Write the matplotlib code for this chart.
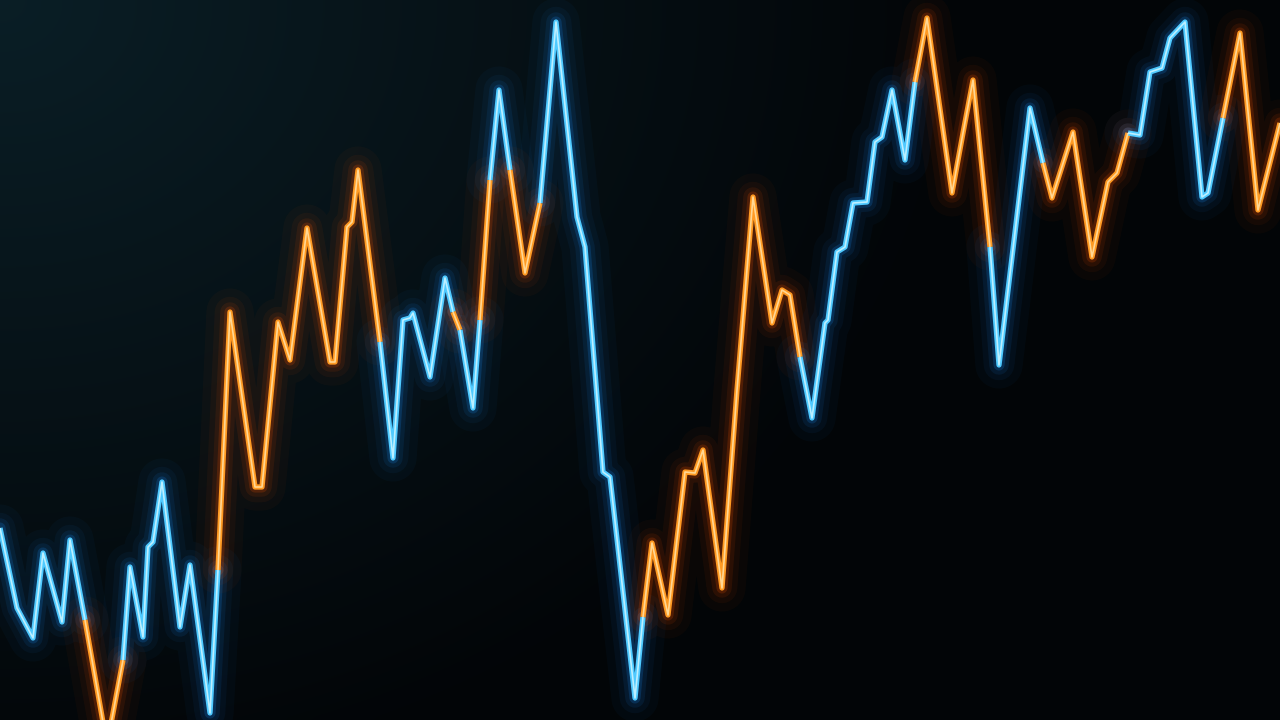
import numpy as np
import matplotlib.pyplot as plt

# Вершины ломаной (в координатах кадра, y вниз) и цвет отрезка, начинающегося в точке
xs = [0, 17, 33, 43, 62, 70, 85, 107, 123, 130, 143, 148, 153, 162, 180, 190, 210,
      218, 230, 255, 262, 278, 290, 307, 330, 335, 347, 352, 358, 380, 393, 403, 410,
      413, 430, 445, 453, 460, 473, 480, 490, 499, 510, 525, 540, 556, 577, 585, 603,
      610, 635, 643, 652, 668, 685, 695, 703, 722, 737, 753, 772, 782, 790, 800, 812,
      825, 828, 837, 845, 853, 867, 875, 882, 892, 905, 915, 927, 952, 963, 973, 990,
      999, 1030, 1043, 1052, 1073, 1092, 1108, 1117, 1128, 1140, 1150, 1162, 1170,
      1185, 1202, 1208, 1223, 1240, 1258, 1280]
ys = [528, 608, 638, 553, 622, 540, 620, 745, 660, 567, 637, 547, 542, 482, 627, 565, 713,
      570, 312, 487, 487, 322, 360, 228, 362, 362, 227, 222, 170, 342, 458, 320, 318,
      313, 377, 278, 312, 330, 408, 320, 180, 90, 170, 273, 203, 22, 217, 247, 472,
      477, 698, 617, 543, 615, 472, 473, 450, 588, 390, 197, 323, 290, 295, 357, 418,
      323, 320, 252, 247, 203, 202, 142, 137, 90, 160, 82, 18, 193, 133, 80, 247,
      365, 108, 163, 198, 132, 257, 182, 173, 133, 135, 72, 68, 38,
      22, 197, 193, 118, 33, 210, 123]
seg = ("bbbbbb" "oo" "bbbbbbbbb" "oooooooooooo" "bbbbbbb" "o" "bb" "o" "bb" "oo"
       "bbbbbbb" "oooooooooooo" "bbbbbbbbbbbb" "ooooo" "bbb" "oooooo" "bbbbbbbb" "ooo")

palette = {
    'b': {'glow': '#1a90ff', 'core': '#4fcaff', 'hot': '#d0f6ff'},
    'o': {'glow': '#ff5500', 'core': '#ff9a22', 'hot': '#ffe2a8'},
}

fig = plt.figure(figsize=(12.8, 7.2), dpi=100)
ax = fig.add_axes([0, 0, 1, 1])
ax.set_xlim(0, 1280)
ax.set_ylim(720, 0)
ax.axis('off')

# Фон: тёмно-бирюзовый в левом верхнем углу, уходит в чёрный
gx, gy = np.meshgrid(np.linspace(0, 1, 256), np.linspace(0, 1, 144))
d = np.clip(1 - np.sqrt((gx / 0.75) ** 2 + (gy / 1.1) ** 2), 0, 1)
bg = np.zeros((144, 256, 3))
bg[..., 0] = 0.01 + 0.03 * d
bg[..., 1] = 0.02 + 0.10 * d
bg[..., 2] = 0.03 + 0.12 * d
ax.imshow(bg, extent=[0, 1280, 720, 0], aspect='auto', zorder=0, interpolation='bicubic')

# Разбиваем ломаную на участки одного цвета
runs = []
start = 0
for i in range(1, len(seg) + 1):
    if i == len(seg) or seg[i] != seg[start]:
        runs.append((seg[start], start, i))
        start = i

for c, a, b in runs:
    px = xs[a:b + 1]
    py = ys[a:b + 1]
    col = palette[c]
    for lw, al in [(34, 0.035), (22, 0.05), (14, 0.09), (8, 0.18)]:
        ax.plot(px, py, color=col['glow'], lw=lw, alpha=al,
                solid_joinstyle='round', solid_capstyle='round', zorder=2)
    ax.plot(px, py, color=col['core'], lw=3.8, solid_joinstyle='round',
            solid_capstyle='butt', zorder=3)
    ax.plot(px, py, color=col['hot'], lw=1.2, alpha=0.85, solid_joinstyle='round',
            solid_capstyle='butt', zorder=4)

fig.savefig('out.png', dpi=100, facecolor='black')
